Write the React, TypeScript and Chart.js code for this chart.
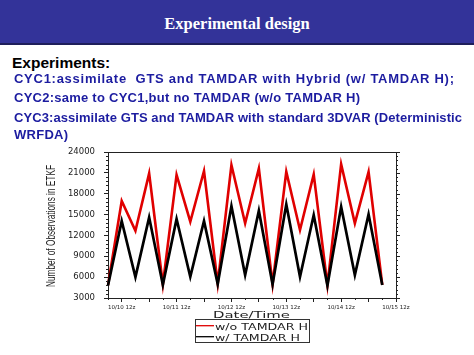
import React, { useEffect, useRef } from 'react';
import { Chart, registerables } from 'chart.js';

Chart.register(...registerables);

// ---- data ----
const timeLabels = [
  '10/10 06z', '10/10 12z', '10/10 18z',
  '10/11 00z', '10/11 06z', '10/11 12z', '10/11 18z',
  '10/12 00z', '10/12 06z', '10/12 12z', '10/12 18z',
  '10/13 00z', '10/13 06z', '10/13 12z', '10/13 18z',
  '10/14 00z', '10/14 06z', '10/14 12z', '10/14 18z',
  '10/15 00z', '10/15 06z', '10/15 12z',
];
const withoutTamdarH = [
  4850, 16950, 12680, 20930, 4950, 20700, 13970, 21270, 5050, 22130, 13740,
  21650, 4980, 21180, 12780, 20780, 4850, 22250, 13750, 21130, 4900,
];
const withTamdarH = [
  4800, 14070, 6010, 14600, 4900, 14360, 6060, 14070, 5000, 16230, 6300,
  15560, 4960, 16470, 6060, 14930, 4800, 16130, 6300, 15050, 4880,
];
const yMin = 3000;
const yMax = 24000;
const yStep = 3000;
const yMinorStep = 600;

const seriesNames = ['w/o TAMDAR H', 'w/ TAMDAR H'];
const seriesColors = ['#e00000', '#000000'];

const experimentLines = [
  'CYC1:assimilate  GTS and TAMDAR with Hybrid (w/ TAMDAR H);',
  'CYC2:same to CYC1,but no TAMDAR (w/o TAMDAR H)',
  'CYC3:assimilate GTS and TAMDAR with standard 3DVAR (Deterministic',
  'WRFDA)',
];
// layout for the text lines (baseline y, rendered width)
const lineBaselines = [82.7, 102.3, 122.3, 139];
const lineWidths = [440, 346, 448, 54];

const framePlugin = {
  id: 'frameTicks',
  afterDraw(chart: any) {
    const { ctx, chartArea: a, scales } = chart;
    const x = scales.x;
    const y = scales.y;
    ctx.save();
    ctx.strokeStyle = '#222';
    ctx.lineWidth = 1;
    ctx.beginPath();
    ctx.moveTo(a.left, Math.round(a.top) + 0.5);
    ctx.lineTo(a.right + 1, Math.round(a.top) + 0.5);
    ctx.moveTo(Math.round(a.right) + 0.5, a.top);
    ctx.lineTo(Math.round(a.right) + 0.5, a.bottom);
    for (let v = yMin; v <= yMax; v += yMinorStep) {
      const py = Math.round(y.getPixelForValue(v)) + 0.5;
      const major = v % yStep === 0;
      const len = major ? 4 : 2;
      ctx.moveTo(a.right, py);
      ctx.lineTo(a.right + len, py);
      if (!major) {
        ctx.moveTo(a.left - 2, py);
        ctx.lineTo(a.left, py);
      }
    }
    for (let i = 0; i < timeLabels.length; i += 2) {
      const px = Math.round(x.getPixelForValue(i)) + 0.5;
      ctx.moveTo(px, a.bottom);
      ctx.lineTo(px, a.bottom + 2);
    }
    ctx.stroke();
    ctx.restore();
  },
};

function ObsChart() {
  const ref = useRef<HTMLCanvasElement | null>(null);
  useEffect(() => {
    if (!ref.current) return;
    const chart = new Chart(ref.current, {
      type: 'line',
      data: {
        labels: timeLabels,
        datasets: [
          {
            label: seriesNames[1],
            data: withTamdarH,
            borderColor: seriesColors[1],
            borderWidth: 2.7,
            pointRadius: 0,
            tension: 0,
            borderJoinStyle: 'miter',
          },
          {
            label: seriesNames[0],
            data: withoutTamdarH,
            borderColor: seriesColors[0],
            borderWidth: 2.6,
            pointRadius: 0,
            tension: 0,
            borderJoinStyle: 'miter',
          },
        ],
      },
      options: {
        responsive: false,
        animation: false,
        layout: { padding: { left: 0, right: 78, top: 152, bottom: 45 } },
        plugins: { legend: { display: false }, tooltip: { enabled: false } },
        scales: {
          x: {
            type: 'category',
            offset: false,
            grid: { display: true, drawOnChartArea: false, drawTicks: true, tickLength: 4, color: '#222' },
            border: { display: true, color: '#222', width: 1 },
            ticks: {
              autoSkip: false,
              maxRotation: 0,
              minRotation: 0,
              padding: 2,
              color: '#222',
              font: { family: 'DejaVu Sans', size: 5.5 },
              callback: (v: any) => (Number(v) % 4 === 1 ? timeLabels[Number(v)] : ''),
            },
            afterBuildTicks: (s: any) => {
              s.ticks = s.ticks.filter((t: any) => t.value % 2 === 1);
            },
            afterFit: (s: any) => {
              s.height = 12;
            },
          },
          y: {
            min: yMin,
            max: yMax,
            grid: { display: true, drawOnChartArea: false, drawTicks: true, tickLength: 4, color: '#222' },
            border: { display: true, color: '#222', width: 1 },
            ticks: {
              stepSize: yStep,
              padding: 9,
              color: '#222',
              font: { family: 'DejaVu Sans', size: 8.5 },
              callback: (v: any) => String(v),
            },
            afterFit: (s: any) => {
              s.width = 108;
            },
          },
        },
      },
      plugins: [framePlugin],
    });
    return () => chart.destroy();
  }, []);
  return (
    <canvas
      ref={ref}
      width={474}
      height={355}
      style={{ position: 'absolute', left: 0, top: 0, width: 474, height: 355 }}
    />
  );
}

export default function App() {
  const sans = '"Liberation Sans", Arial, sans-serif';
  return (
    <div
      style={{
        position: 'fixed',
        left: 0,
        top: 0,
        width: 474,
        height: 355,
        background: '#fff',
        overflow: 'hidden',
      }}
    >
      <div
        style={{
          position: 'absolute',
          left: 0,
          top: 0,
          width: 474,
          height: 43,
          background: '#333399',
          borderBottom: '2px solid #1e1e5a',
        }}
      />
      <div
        style={{
          position: 'absolute',
          left: 0,
          top: 15,
          width: 474,
          textAlign: 'center',
          color: '#fff',
          fontFamily: '"Liberation Serif", "Times New Roman", serif',
          fontWeight: 'bold',
          fontSize: 16.5,
          lineHeight: '17px',
          whiteSpace: 'pre',
        }}
      >
        Experimental design
      </div>
      <div
        style={{
          position: 'absolute',
          left: 12,
          top: 55.2,
          color: '#000',
          fontFamily: sans,
          fontWeight: 'bold',
          fontSize: 15.5,
          lineHeight: '15.5px',
          whiteSpace: 'pre',
        }}
      >
        Experiments:
      </div>
      <ObsChart />
      <svg
        width={474}
        height={355}
        style={{ position: 'absolute', left: 0, top: 0, pointerEvents: 'none' }}
      >
        {experimentLines.map((t, i) => (
          <text
            key={i}
            x={14}
            y={lineBaselines[i]}
            fontFamily="Liberation Sans, Arial, sans-serif"
            fontWeight="bold"
            fontSize={13}
            fill="#1c1ca0"
            textLength={lineWidths[i]}
            lengthAdjust="spacing"
            style={{ whiteSpace: 'pre' }}
          >
            {t}
          </text>
        ))}
        <text
          transform="translate(55,287) rotate(-90)"
          x={0}
          y={0}
          fontFamily="Liberation Sans, Arial, sans-serif"
          fontSize={13}
          fill="#222"
          textLength={122}
          lengthAdjust="spacingAndGlyphs"
        >
          Number of Observations in ETKF
        </text>
        <text
          x={213}
          y={317.7}
          fontFamily="DejaVu Sans, sans-serif"
          fontSize={9.5}
          fill="#222"
          textLength={77}
          lengthAdjust="spacingAndGlyphs"
        >
          Date/Time
        </text>
        <rect x={195.5} y={319.5} width={114} height={23} fill="none" stroke="#333" strokeWidth={1} />
        <line x1={196} y1={325.7} x2={214} y2={325.7} stroke={seriesColors[0]} strokeWidth={1.3} />
        <text
          x={215}
          y={330.2}
          fontFamily="DejaVu Sans, sans-serif"
          fontSize={9}
          fill="#222"
          textLength={93}
          lengthAdjust="spacingAndGlyphs"
        >
          {seriesNames[0]}
        </text>
        <line x1={196} y1={336.7} x2={214} y2={336.7} stroke={seriesColors[1]} strokeWidth={1.3} />
        <text
          x={215}
          y={340.8}
          fontFamily="DejaVu Sans, sans-serif"
          fontSize={9}
          fill="#222"
          textLength={85}
          lengthAdjust="spacingAndGlyphs"
        >
          {seriesNames[1]}
        </text>
      </svg>
    </div>
  );
}
